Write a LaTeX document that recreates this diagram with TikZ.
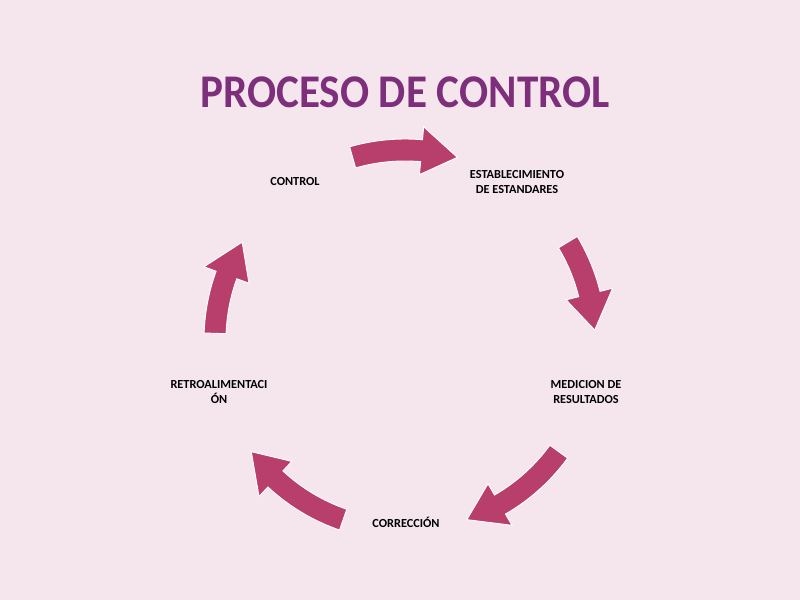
\documentclass[tikz,border=0pt]{standalone}
\usepackage{fontspec}
\setmainfont{Carlito}
\definecolor{bg}{HTML}{F5E6EE}
\definecolor{arr}{HTML}{B83E6B}
\definecolor{ttl}{HTML}{7E2F7C}
\tikzset{lbl/.style={font=\bfseries\fontsize{10.5}{12}\selectfont, align=center, text=black},
 arrowshape/.style={fill=arr, draw=white, line width=0.8pt}}
\newcommand\cyc[2]{%
\fill[arrowshape] (#1:179) arc[start angle=#1, end angle={#2+11}, radius=179] -- ({#2+11}:166) -- (#2:190) -- ({#2+11}:214) -- ({#2+11}:201) arc[start angle={#2+11}, end angle=#1, radius=201] -- cycle;}
\begin{document}
\begin{tikzpicture}[x=0.03cm,y=0.03cm]
\fill[bg] (0,0) rectangle (800,600);
\useasboundingbox (0,0) rectangle (800,600);
\node[font=\bfseries\fontsize{40}{44}\selectfont, text=ttl, xscale=0.92] (title) at (405,508) {PROCESO DE CONTROL};
\begin{scope}[shift={(405,260)}]
\cyc{106}{74}
\cyc{31}{3}
\cyc{-36}{-71}
\cyc{-109}{-144}
\cyc{178}{149}
\end{scope}
\node[lbl] (n1) at (295,418) {CONTROL};
\node[lbl] (n2) at (517,418) {ESTABLECIMIENTO\\DE ESTANDARES};
\node[lbl] (n3) at (586,208) {MEDICION DE\\RESULTADOS};
\node[lbl] (n4) at (406,78) {CORRECCIÓN};
\node[lbl] (n5) at (219,208) {RETROALIMENTACI\\ÓN};
\end{tikzpicture}
\end{document}
